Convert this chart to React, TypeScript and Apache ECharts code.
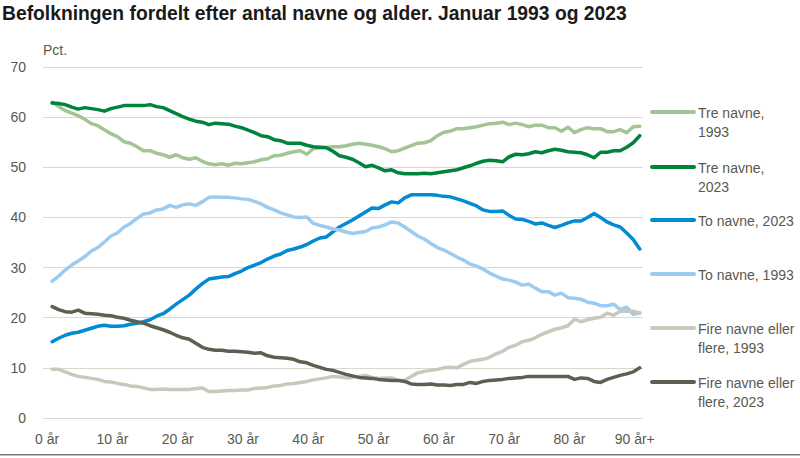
import { useEffect, useRef } from 'react';
import * as echarts from 'echarts';

const FONT = '"Liberation Sans", Arial, sans-serif';
const TEXT = '#595950';

const ages = Array.from({ length: 91 }, (_, i) => i);
const xTicks = [0, 10, 20, 30, 40, 50, 60, 70, 80, 90];

const tre1993 = [
  63.0, 62.1, 61.3, 60.8, 60.3, 59.6, 58.7, 58.3, 57.5, 56.7, 56.1, 55.1, 54.8, 54.1, 53.3, 53.3, 52.8, 52.5, 52.0, 52.5,
  51.9, 51.6, 51.9, 51.2, 50.7, 50.5, 50.7, 50.4, 50.8, 50.7, 50.9, 51.1, 51.5, 51.7, 52.3, 52.4, 52.8, 53.1, 53.3, 52.6,
  53.7, 53.9, 54.0, 54.1, 54.1, 54.3, 54.6, 54.8, 54.6, 54.4, 54.1, 53.7, 53.1, 53.3, 53.8, 54.3, 54.8, 54.9, 55.3, 56.3,
  57.0, 57.2, 57.7, 57.7, 57.9, 58.1, 58.4, 58.7, 58.8, 59.0, 58.5, 58.8, 58.5, 58.1, 58.4, 58.4, 57.9, 57.9, 57.2, 58.0,
  56.9, 57.5, 57.9, 57.7, 57.7, 57.1, 57.1, 57.5, 56.9, 58.1, 58.2,
];
const tre2023 = [
  62.8, 62.7, 62.5, 62.0, 61.6, 61.9, 61.7, 61.5, 61.2, 61.7, 62.0, 62.3, 62.3, 62.3, 62.3, 62.5, 62.1, 61.9, 61.3, 60.7,
  60.1, 59.6, 59.2, 59.0, 58.5, 58.8, 58.7, 58.6, 58.2, 57.9, 57.4, 56.9, 56.3, 56.1, 55.5, 55.3, 54.8, 54.8, 54.8, 54.4,
  54.1, 54.0, 53.9, 53.2, 52.3, 52.0, 51.6, 50.9, 50.1, 50.4, 49.9, 49.3, 49.5, 48.9, 48.7, 48.7, 48.7, 48.8, 48.7, 48.9,
  49.1, 49.3, 49.5, 49.9, 50.3, 50.8, 51.2, 51.4, 51.3, 51.1, 52.1, 52.6, 52.5, 52.7, 53.1, 52.9, 53.3, 53.6, 53.4, 53.1,
  53.0, 52.9, 52.5, 51.9, 53.0, 53.0, 53.3, 53.3, 54.0, 54.9, 56.3,
];
const to2023 = [
  15.2, 15.9, 16.5, 16.9, 17.1, 17.5, 17.9, 18.3, 18.5, 18.3, 18.3, 18.4, 18.7, 18.9, 19.2, 19.6, 20.3, 20.8, 21.7, 22.7,
  23.6, 24.5, 25.7, 26.8, 27.7, 27.9, 28.1, 28.2, 28.8, 29.3, 30.0, 30.5, 31.0, 31.7, 32.3, 32.7, 33.4, 33.7, 34.1, 34.6,
  35.3, 35.9, 36.1, 37.1, 38.1, 38.8, 39.5, 40.3, 41.1, 41.9, 41.8, 42.5, 43.1, 42.9, 43.9, 44.5, 44.5, 44.5, 44.5, 44.4,
  44.2, 44.1, 43.7, 43.3, 42.8, 42.3, 41.5, 41.2, 41.2, 41.3, 40.4, 39.7, 39.6, 39.2, 38.7, 38.9, 38.4, 38.0, 38.4, 38.9,
  39.3, 39.3, 40.0, 40.8, 40.0, 39.1, 38.5, 38.1, 36.9, 35.6, 33.7,
];
const to1993 = [
  27.3, 28.3, 29.5, 30.5, 31.3, 32.2, 33.3, 34.0, 35.1, 36.3, 36.9, 38.1, 38.8, 39.8, 40.7, 40.9, 41.5, 41.7, 42.4, 42.0,
  42.5, 42.7, 42.4, 43.1, 44.0, 44.1, 44.0, 44.0, 43.9, 43.7, 43.6, 43.2, 42.7, 42.0, 41.5, 40.9, 40.5, 40.1, 40.0, 40.1,
  38.8, 38.4, 38.1, 37.7, 37.5, 37.1, 36.8, 37.0, 37.2, 37.9, 38.1, 38.5, 39.1, 38.9, 38.1, 37.2, 36.3, 35.7, 34.8, 34.0,
  33.5, 32.8, 32.1, 31.5, 30.7, 30.3, 29.7, 28.9, 28.3, 27.7, 27.5, 27.1, 26.5, 26.7, 25.9, 25.2, 25.2, 24.5, 24.9, 24.0,
  23.9, 23.7, 23.1, 22.9, 22.4, 22.4, 22.7, 21.6, 22.1, 20.7, 21.0,
];
const fire1993 = [
  9.7, 9.7, 9.2, 8.7, 8.3, 8.1, 7.9, 7.7, 7.3, 7.2, 6.9, 6.7, 6.4, 6.3, 6.0, 5.7, 5.7, 5.8, 5.7, 5.7,
  5.7, 5.7, 5.9, 6.0, 5.3, 5.3, 5.4, 5.5, 5.5, 5.6, 5.6, 5.9, 6.0, 6.1, 6.4, 6.5, 6.8, 6.9, 7.1, 7.3,
  7.6, 7.8, 8.0, 8.3, 8.2, 8.0, 8.1, 8.3, 8.5, 8.1, 7.9, 8.0, 8.0, 7.5, 7.5, 8.3, 9.0, 9.3, 9.5, 9.7,
  10.0, 10.1, 10.0, 10.7, 11.3, 11.5, 11.7, 12.1, 12.8, 13.3, 14.1, 14.5, 15.2, 15.5, 16.0, 16.7, 17.2, 17.7, 18.0, 18.4,
  19.7, 19.2, 19.6, 19.9, 20.1, 20.9, 20.5, 21.3, 21.3, 21.3, 20.9,
];
const fire2023 = [
  22.2, 21.6, 21.2, 21.1, 21.5, 20.9, 20.8, 20.7, 20.5, 20.4, 20.1, 19.9, 19.5, 19.2, 18.9, 18.4, 18.0, 17.6, 17.1, 16.5,
  16.0, 15.7, 14.9, 14.1, 13.7, 13.5, 13.5, 13.3, 13.3, 13.2, 13.1, 12.9, 13.0, 12.4, 12.1, 12.0, 11.9, 11.7, 11.2, 11.0,
  10.5, 10.1, 9.7, 9.5, 9.1, 8.7, 8.4, 8.1, 8.0, 7.9, 7.7, 7.6, 7.5, 7.5, 7.3, 6.8, 6.7, 6.7, 6.8, 6.6,
  6.6, 6.5, 6.7, 6.7, 7.1, 6.9, 7.3, 7.5, 7.6, 7.7, 7.9, 8.0, 8.1, 8.3, 8.3, 8.3, 8.3, 8.3, 8.3, 8.3,
  7.7, 8.0, 7.9, 7.3, 7.1, 7.7, 8.1, 8.5, 8.8, 9.2, 10.0,
];

const seriesList = [
  { name: 'Tre navne,\n1993', color: '#a3c493', values: tre1993, legendY: 112 },
  { name: 'Tre navne,\n2023', color: '#00843c', values: tre2023, legendY: 167 },
  { name: 'To navne, 2023', color: '#008bd2', values: to2023, legendY: 220 },
  { name: 'To navne, 1993', color: '#9ccbf0', values: to1993, legendY: 274 },
  { name: 'Fire navne eller\nflere, 1993', color: '#c8c8bc', values: fire1993, legendY: 328 },
  { name: 'Fire navne eller\nflere, 2023', color: '#5e5e52', values: fire2023, legendY: 382 },
];

export default function App() {
  const chartRef = useRef<HTMLDivElement>(null);

  useEffect(() => {
    if (!chartRef.current) return;
    const chart = echarts.init(chartRef.current, undefined, { renderer: 'svg' });

    // legend drawn by hand: line sample level with the first text line
    const legendGraphics: any[] = [];
    seriesList.forEach((s) => {
      legendGraphics.push({
        type: 'line',
        shape: { x1: 652, y1: s.legendY, x2: 694, y2: s.legendY },
        style: { stroke: s.color, lineWidth: 4, lineCap: 'round' },
      });
      legendGraphics.push({
        type: 'text',
        x: 698,
        y: s.legendY - 9,
        style: {
          text: s.name,
          fill: TEXT,
          font: `14px ${FONT}`,
          lineHeight: 19,
          verticalAlign: 'top',
        },
      });
    });

    const option: echarts.EChartsOption = {
      animation: false,
      backgroundColor: '#ffffff',
      textStyle: { fontFamily: FONT },
      title: {
        text: 'Befolkningen fordelt efter antal navne og alder. Januar 1993 og 2023',
        left: 0,
        top: 4,
        padding: [0, 0, 0, 2],
        textStyle: { fontSize: 19.3, fontWeight: 'bold', color: '#1a1a1a', fontFamily: FONT },
      },
      grid: { left: 43, right: 157, top: 67, bottom: 40 },
      xAxis: {
        type: 'value',
        min: -1.4,
        max: 90.5,
        axisLine: { show: false },
        axisTick: { show: false },
        splitLine: { show: false },
        axisLabel: {
          customValues: xTicks,
          formatter: (v: number) => (v === 90 ? '90 år+' : `${v} år`),
          color: TEXT,
          fontSize: 14,
          margin: 14,
          padding: [0, 10, 0, 0],
        },
      } as any,
      yAxis: {
        type: 'value',
        min: 0,
        max: 70,
        interval: 10,
        axisLine: { show: false },
        axisTick: { show: false },
        axisLabel: { color: TEXT, fontSize: 14, margin: 17 },
        splitLine: { lineStyle: { color: '#d9d9d0', width: 1 } },
      },
      series: seriesList.map((s) => ({
        type: 'line',
        name: s.name,
        data: ages.map((a, i) => [a, s.values[i]]),
        showSymbol: false,
        lineStyle: { color: s.color, width: 3.5, cap: 'round', join: 'round' },
        itemStyle: { color: s.color },
      })),
      graphic: [
        {
          type: 'text',
          x: 43,
          y: 50,
          style: { text: 'Pct.', fill: TEXT, font: `14px ${FONT}`, verticalAlign: 'middle' },
        },
        ...legendGraphics,
        {
          type: 'rect',
          shape: { x: 0, y: 454, width: 800, height: 1.5 },
          style: { fill: '#6f7c88' },
        },
      ],
    };

    chart.setOption(option);
    return () => {
      chart.dispose();
    };
  }, []);

  return (
    <div
      ref={chartRef}
      style={{ position: 'fixed', left: 0, top: 0, width: 800, height: 458 }}
    />
  );
}
